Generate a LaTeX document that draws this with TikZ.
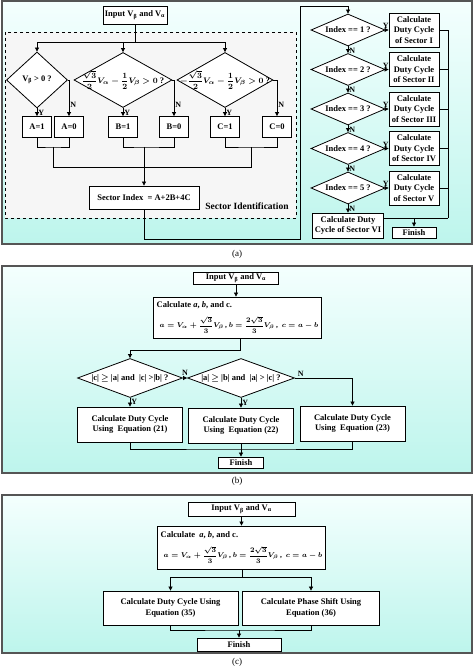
\documentclass[tikz,border=0pt]{standalone}
\usepackage{fontspec}
\setmainfont{Liberation Serif}
\usetikzlibrary{shapes.geometric, arrows.meta}
\definecolor{frameGray}{HTML}{555555}
\definecolor{panelTop}{HTML}{F4FFFE}
\definecolor{panelBot}{HTML}{BDF5EC}
\definecolor{idGray}{HTML}{F6F6F6}

\tikzset{
  procbox/.style={rectangle, draw=black, line width=0.8pt, fill=white,
    align=center, inner sep=1pt, font=\bfseries\fontsize{8.5}{10.5}\selectfont},
  decision/.style={diamond, draw=black, line width=0.8pt, fill=white,
    align=center, inner xsep=-6pt, inner ysep=0pt, aspect=2,
    font=\bfseries\boldmath\fontsize{8.5}{10.5}\selectfont},
  link/.style={draw=black, line width=0.7pt},
  arr/.style={link, -{Triangle[length=4pt,width=4pt]}},
  yn/.style={font=\bfseries\fontsize{8}{8}\selectfont, inner sep=1pt},
  panel/.style={draw=frameGray, line width=1.6pt, top color=panelTop, bottom color=panelBot},
  capt/.style={font=\fontsize{9}{10}\selectfont}
}
\newcommand{\abcformula}{{\fontsize{7.5}{9}\selectfont\boldmath
  $\displaystyle a=V_{\alpha}+\frac{\sqrt{3}}{3}V_{\beta}$\,,\ $\displaystyle b=\frac{2\sqrt{3}}{3}V_{\beta}$\ ,\ \ $c=a-b$}}

\begin{document}
\begin{tikzpicture}[x=1pt, y=-1pt]
  \useasboundingbox (0,0) rectangle (474,668);

  % ---------- (a) sector identification ----------
  \path[panel] (2,1) rectangle (472,244);
  \draw[dashed, line width=0.8pt, fill=idGray] (5,32) rectangle (296,218);

  \node[procbox, minimum width=64pt, minimum height=18pt]
    (inA) at (135,15) {Input V\textsubscript{β} and V\textsubscript{α}};

  \node[decision, minimum width=61pt, minimum height=56pt]
    (dA) at (37,80) {V\textsubscript{β} > 0 ?};
  \node[decision, minimum width=98pt, minimum height=55pt, aspect=1.8, inner xsep=-11pt]
    (dB) at (123,80) {$\displaystyle\frac{\sqrt{3}}{2}V_{\alpha}-\frac{1}{2}V_{\beta}>0$ ?};
  \node[decision, minimum width=96pt, minimum height=55pt, aspect=1.8, inner xsep=-15pt]
    (dC) at (225,80) {$\displaystyle-\frac{\sqrt{3}}{2}V_{\alpha}-\frac{1}{2}V_{\beta}>0$ ?};

  \node[procbox, minimum width=29pt, minimum height=21pt] (a1) at (37,127) {A=1};
  \node[procbox, minimum width=29pt, minimum height=21pt] (a0) at (69,127) {A=0};
  \node[procbox, minimum width=29pt, minimum height=21pt] (b1) at (123,127) {B=1};
  \node[procbox, minimum width=29pt, minimum height=21pt] (b0) at (174,127) {B=0};
  \node[procbox, minimum width=29pt, minimum height=21pt] (c1) at (225,127) {C=1};
  \node[procbox, minimum width=29pt, minimum height=21pt] (c0) at (277,127) {C=0};

  \node[procbox, minimum width=110pt, minimum height=23pt]
    (sec) at (144,197.5) {Sector Index~ = A+2B+4C};
  \node[font=\bfseries\fontsize{9.5}{11}\selectfont] (secid) at (247,206) {Sector Identification};

  % index tests
  \node[decision, minimum width=74pt, minimum height=32pt, aspect=2.3] (q1) at (348,30) {Index == 1 ?};
  \node[decision, minimum width=74pt, minimum height=32pt, aspect=2.3] (q2) at (348,69.5) {Index == 2 ?};
  \node[decision, minimum width=74pt, minimum height=32pt, aspect=2.3] (q3) at (348,109) {Index == 3 ?};
  \node[decision, minimum width=74pt, minimum height=32pt, aspect=2.3] (q4) at (348,148.5) {Index == 4 ?};
  \node[decision, minimum width=74pt, minimum height=32pt, aspect=2.3] (q5) at (348,188) {Index == 5 ?};

  \node[procbox, minimum width=50pt, minimum height=34pt] (s1) at (414,30) {Calculate\\Duty Cycle\\of Sector I};
  \node[procbox, minimum width=50pt, minimum height=34pt] (s2) at (414,69.5) {Calculate\\Duty Cycle\\of Sector II};
  \node[procbox, minimum width=50pt, minimum height=34pt] (s3) at (414,109) {Calculate\\Duty Cycle\\of Sector III};
  \node[procbox, minimum width=50pt, minimum height=34pt] (s4) at (414,148.5) {Calculate\\Duty Cycle\\of Sector IV};
  \node[procbox, minimum width=50pt, minimum height=34pt] (s5) at (414,188) {Calculate\\Duty Cycle\\of Sector V};
  \node[procbox, minimum width=71pt, minimum height=25pt] (s6) at (348,225.5) {Calculate Duty\\Cycle of Sector VI};
  \node[procbox, minimum width=44pt, minimum height=11pt, inner sep=0pt] (finA) at (414,232.5) {Finish};

  \coordinate (sa) at (135,42);
  \coordinate (ja) at (53,147);
  \coordinate (jb) at (144,147);
  \coordinate (jc) at (251,147);
  \coordinate (jl) at (53,167);
  \coordinate (jr) at (251,167);
  \coordinate (lb) at (300,239);
  \coordinate (lt) at (300,6);
  \coordinate (rt) at (448,30);
  \coordinate (rb) at (448,218);

  \draw[link] (inA.south) -- (sa);
  \draw[arr] (sa) -| (dA.north);
  \draw[arr] (sa) -| (dC.north);
  \draw[arr] (sa -| dB.north) -- (dB.north);
  \draw[arr] (dA.south) -- (a1.north) node[yn, pos=0.55, right] {Y};
  \draw[arr] (dA.east) -| (a0.north) node[yn, pos=0.85, right] {N};
  \draw[arr] (dB.south) -- (b1.north) node[yn, pos=0.55, right] {Y};
  \draw[arr] (dB.east) -| (b0.north) node[yn, pos=0.85, right] {N};
  \draw[arr] (dC.south) -- (c1.north) node[yn, pos=0.55, right] {Y};
  \draw[arr] (dC.east) -| (c0.north) node[yn, pos=0.85, right] {N};

  \draw[link] (a1.south) |- (ja) -| (a0.south);
  \draw[link] (b1.south) |- (jb) -| (b0.south);
  \draw[link] (c1.south) |- (jc) -| (c0.south);
  \draw[link] (ja) -- (jl) -- (jr) -- (jc);
  \draw[arr] (jb) -- (sec.north);
  \draw[arr] (sec.south) |- (lb) -- (lt) -| (q1.north);

  \draw[arr] (q1.east) -- (s1.west) node[yn, pos=0.1, above] {Y};
  \draw[arr] (q2.east) -- (s2.west) node[yn, pos=0.1, above] {Y};
  \draw[arr] (q3.east) -- (s3.west) node[yn, pos=0.1, above] {Y};
  \draw[arr] (q4.east) -- (s4.west) node[yn, pos=0.1, above] {Y};
  \draw[arr] (q5.east) -- (s5.west) node[yn, pos=0.1, above] {Y};
  \draw[arr] (q1.south) -- (q2.north) node[yn, pos=0.6, right] {N};
  \draw[arr] (q2.south) -- (q3.north) node[yn, pos=0.6, right] {N};
  \draw[arr] (q3.south) -- (q4.north) node[yn, pos=0.6, right] {N};
  \draw[arr] (q4.south) -- (q5.north) node[yn, pos=0.6, right] {N};
  \draw[arr] (q5.south) -- (s6.north) node[yn, pos=0.6, right] {N};

  \draw[link] (s1.east) -- (rt) -- (rb);
  \draw[link] (s2.east) -- (s2.east -| rt);
  \draw[link] (s3.east) -- (s3.east -| rt);
  \draw[link] (s4.east) -- (s4.east -| rt);
  \draw[link] (s5.east) -- (s5.east -| rt);
  \draw[link] (s6.east |- rb) -- (rb);
  \draw[arr] (finA.north |- rb) -- (finA.north);

  \node[capt] (capA) at (237,254) {(a)};

  % ---------- (b) ----------
  \path[panel] (2,266) rectangle (472,473);

  \node[procbox, minimum width=85pt, minimum height=12pt, inner sep=0pt]
    (inB) at (236,278) {Input V\textsubscript{β} and V\textsubscript{α}};
  \node[procbox, minimum width=151pt, minimum height=41pt, align=left, inner xsep=3pt]
    (calB) at (237.5,317.5) {Calculate \textit{a}, \textit{b}, and c.\\[6pt]
    \hspace*{3pt}\abcformula};

  \node[decision, minimum width=105pt, minimum height=39pt, aspect=2.7, inner xsep=-10pt]
    (qb1) at (130,378) {|c| $\geq$ |a| and \ |c| >|b| ?};
  \node[decision, minimum width=107pt, minimum height=39pt, aspect=2.7, inner xsep=-10pt]
    (qb2) at (241,378) {|a| $\geq$ |b| and \ |a| > |c| ?};

  \node[procbox, minimum width=105pt, minimum height=35pt] (e21) at (130,424.5) {Calculate Duty Cycle\\Using \ Equation (21)};
  \node[procbox, minimum width=105pt, minimum height=35pt] (e22) at (241,425.5) {Calculate Duty Cycle\\Using \ Equation (22)};
  \node[procbox, minimum width=105pt, minimum height=35pt] (e23) at (352.5,423.5) {Calculate Duty Cycle\\Using \ Equation (23)};
  \node[procbox, minimum width=45pt, minimum height=11pt, inner sep=0pt] (finB) at (241,462.5) {Finish};

  \coordinate (bs) at (240,350);
  \coordinate (bj) at (241,449);

  \draw[arr] (inB.south) -- (inB.south |- calB.north);
  \draw[arr] (calB.south -| bs) -- (bs) -| (qb1.north);
  \draw[arr] (qb1.east) -- (qb2.west) node[yn, midway, above=1pt] {N};
  \draw[arr] (qb2.east) -| (e23.north) node[yn, pos=0.05, above] {N};
  \draw[arr] (qb1.south) -- (e21.north) node[yn, pos=0.5, right] {Y};
  \draw[arr] (qb2.south) -- (e22.north) node[yn, pos=0.5, right] {Y};
  \draw[link] (e21.south) |- (bj) -| (e23.south);
  \draw[arr] (e22.south) -- (finB.north);

  \node[capt] (capB) at (237,481) {(b)};

  % ---------- (c) ----------
  \path[panel] (2,495) rectangle (472,653);

  \node[procbox, minimum width=107pt, minimum height=14pt, inner sep=0pt]
    (inC) at (241.5,509) {Input V\textsubscript{β} and V\textsubscript{α}};
  \node[procbox, minimum width=151pt, minimum height=43pt, align=left, inner xsep=3pt]
    (calC) at (241.5,547.5) {Calculate \ \textit{a}, \textit{b}, and c.\\[6pt]
    \hspace*{3pt}\abcformula};

  \node[procbox, minimum width=135pt, minimum height=34pt] (e35) at (170.5,608) {Calculate Duty Cycle Using\\Equation (35)};
  \node[procbox, minimum width=137pt, minimum height=34pt] (e36) at (311,608) {Calculate Phase Shift Using\\Equation (36)};
  \node[procbox, minimum width=84pt, minimum height=13pt, inner sep=0pt] (finC) at (239,644.5) {Finish};

  \coordinate (cs) at (242,577);
  \coordinate (cj) at (239,630);

  \draw[arr] (inC.south) -- (calC.north);
  \draw[arr] (calC.south -| cs) -- (cs) -| (e35.north);
  \draw[arr] (cs) -| (e36.north);
  \draw[link] (e35.south) |- (cj) -| (e36.south);
  \draw[arr] (cj) -- (finC.north);

  \node[capt] (capC) at (237,662) {(c)};
\end{tikzpicture}
\end{document}
